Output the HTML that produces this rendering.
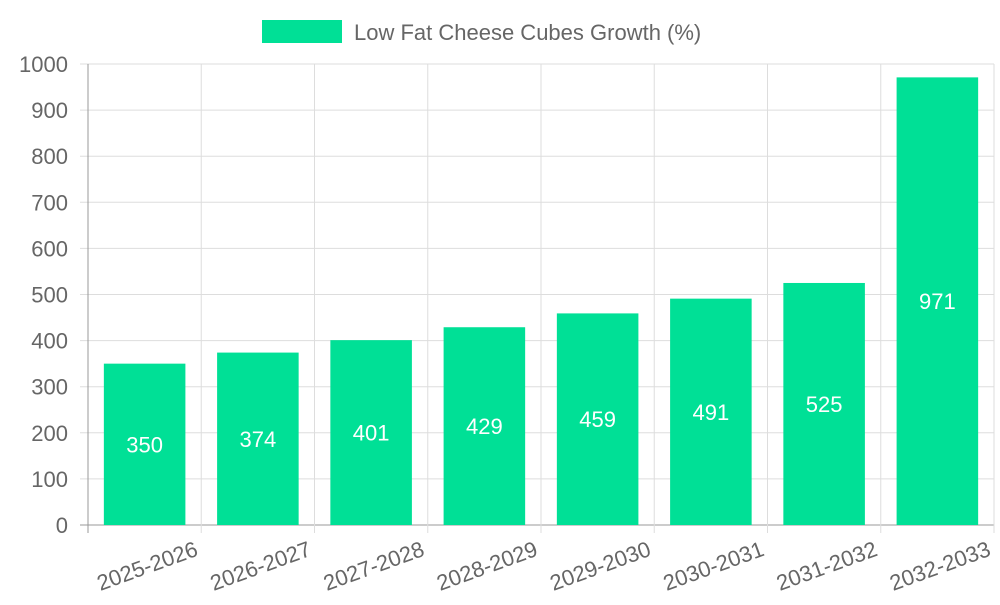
<!DOCTYPE html>
<html><head><meta charset="utf-8"><style>
body{margin:0;background:#fff;}
svg{font-family:"Liberation Sans",sans-serif;}
</style></head><body>
<svg id="chart" width="1000" height="600">
<g>
<rect x="262" y="20" width="80" height="23" fill="#00e096"></rect>
<text x="354" y="40" font-size="22" fill="#666">Low Fat Cheese Cubes Growth (%)</text>
</g>
<g id="grid"></g><g id="bars"></g><g id="axes"></g>
</svg>
<script>
const categories=["2025-2026","2026-2027","2027-2028","2028-2029","2029-2030","2030-2031","2031-2032","2032-2033"];
const values=[350,374,401,429,459,491,525,971];
const yTicks=[0,100,200,300,400,500,600,700,800,900,1000];
const NS="http://www.w3.org/2000/svg";
const L=88,R=994,T=64,B=525,yMax=1000;
const bw=(R-L)/categories.length;
const y=v=>B-(v/yMax)*(B-T);
const x=i=>L+i*bw;
function mk(tag,attrs,parent,txt){const e=document.createElementNS(NS,tag);for(const k in attrs)e.setAttribute(k,attrs[k]);if(txt!==undefined)e.textContent=txt;document.getElementById(parent).appendChild(e);return e;}
yTicks.forEach(t=>{
 const l=mk('line',{x1:L-8,x2:R,y1:y(t),y2:y(t),stroke:t===0?'#999':'#ddd','stroke-width':1},'grid');
 
 
 const tx=mk('text',{x:L-20,y:y(t)+8,'text-anchor':'end','font-size':22,fill:'#666'},'axes',t);
 
 
});
for(let i=0;i<=categories.length;i++){
 const l=mk('line',{x1:x(i),x2:x(i),y1:T,y2:B+8,stroke:i===0?'#999':'#ddd','stroke-width':1},'grid');
 
 
}
categories.forEach((c,i)=>{
 const cx=x(i)+bw/2, w=bw*0.72;
 const r=mk('rect',{x:cx-w/2,y:y(values[i]),width:w,height:B-y(values[i]),fill:'#00e096'},'bars');
 
 
 const v=mk('text',{x:cx,y:(y(values[i])+B)/2+8,'text-anchor':'middle','font-size':22,fill:'#fff'},'bars',values[i]);
 
 
 const tx=x(i)+bw-2;
 const lab=mk('text',{x:0,y:0,'text-anchor':'end','font-size':22,fill:'#666',transform:`translate(${tx},${B+30}) rotate(-20)`},'axes',c);
 
 
});
</script>
</body></html>
